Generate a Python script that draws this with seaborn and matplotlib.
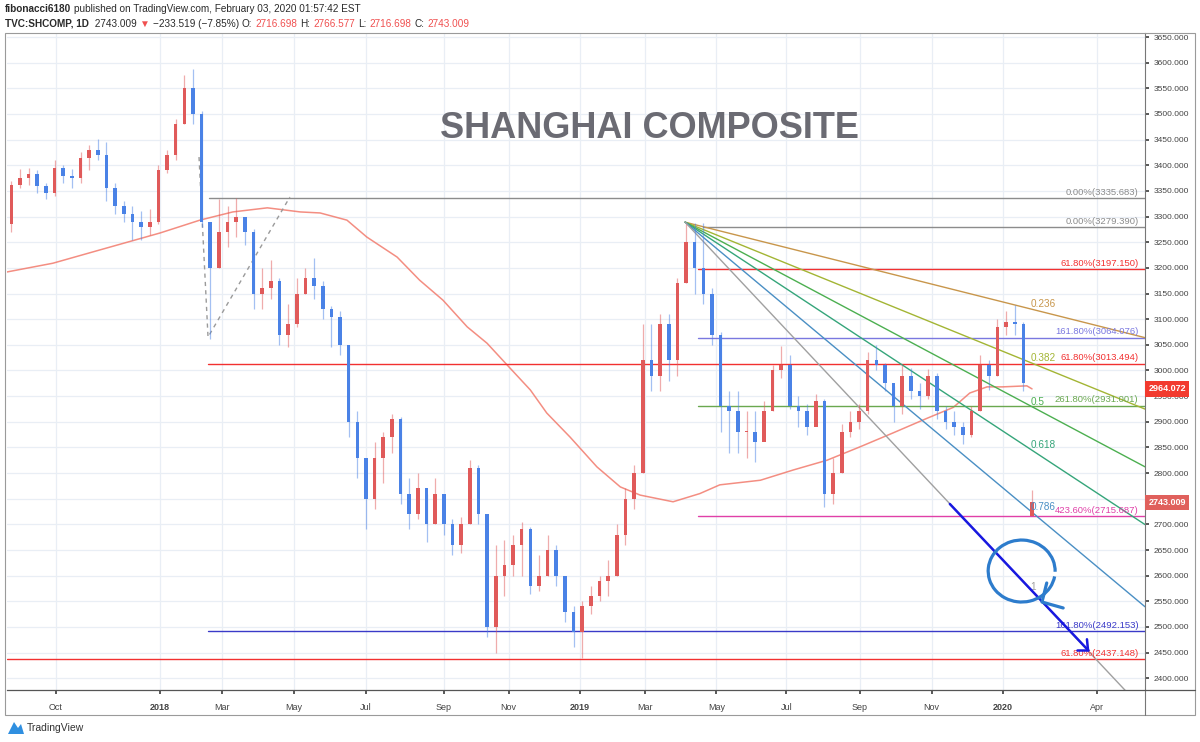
import numpy as np
import pandas as pd
import matplotlib
matplotlib.use("Agg")
import matplotlib.pyplot as plt
from matplotlib.patches import Arc, Rectangle, Polygon
from matplotlib.lines import Line2D
import seaborn as sns

# 주봉 캔들 (중국식 색상: 빨강 = 상승, 파랑 = 하락)
first_open = 3285
close = [3362, 3375, 3382, 3360, 3345, 3395, 3380, 3375, 3415, 3430,
         3420, 3355, 3320, 3305, 3290, 3280, 3290, 3390, 3420, 3480,
         3550, 3500, 3290, 3200, 3270, 3290, 3300, 3270, 3150, 3160,
         3175, 3070, 3090, 3150, 3180, 3165, 3120, 3105, 3050, 2900,
         2830, 2750, 2830, 2870, 2905, 2760, 2720, 2770, 2700, 2760,
         2700, 2660, 2700, 2810, 2720, 2500, 2600, 2620, 2660, 2690,
         2580, 2600, 2650, 2600, 2530, 2490, 2540, 2560, 2590, 2600,
         2680, 2750, 2800, 3020, 2990, 3090, 3020, 3170, 3250, 3200,
         3150, 3070, 2930, 2920, 2880, 2880, 2860, 2920, 3000, 3010,
         2930, 2920, 2890, 2940, 2760, 2800, 2880, 2900, 2920, 3020,
         3010, 2975, 2930, 2990, 2960, 2950, 2990, 2920, 2900, 2890,
         2875, 2920, 3010, 2990, 3085, 3095, 3090, 2976, 2743.009]
high = [3370, 3392, 3395, 3390, 3365, 3410, 3400, 3392, 3425, 3440,
        3452, 3445, 3365, 3330, 3320, 3310, 3315, 3400, 3430, 3490,
        3575, 3587, 3505, 3290, 3335, 3320, 3336, 3300, 3275, 3200,
        3215, 3180, 3130, 3180, 3200, 3220, 3175, 3125, 3115, 3050,
        2920, 2830, 2860, 2880, 2915, 2910, 2790, 2800, 2760, 2790,
        2760, 2710, 2715, 2825, 2815, 2720, 2660, 2670, 2680, 2705,
        2695, 2640, 2680, 2660, 2600, 2540, 2550, 2580, 2600, 2630,
        2700, 2770, 2815, 3090, 3090, 3110, 3110, 3180, 3285, 3288,
        3288, 3160, 3075, 2960, 2960, 2920, 2920, 2940, 3010, 3048,
        3030, 2950, 2935, 2955, 2945, 2830, 2895, 2920, 2935, 3035,
        3050, 3015, 2970, 3010, 3005, 2975, 3002, 2995, 2930, 2920,
        2900, 2930, 3030, 3020, 3100, 3115, 3127, 3095, 2766.577]
low = [3270, 3355, 3362, 3345, 3335, 3340, 3365, 3355, 3365, 3390,
       3410, 3330, 3305, 3290, 3255, 3255, 3265, 3285, 3385, 3410,
       3480, 3480, 3280, 3062, 3200, 3240, 3260, 3245, 3120, 3120,
       3140, 3050, 3045, 3085, 3150, 3140, 3100, 3045, 3030, 2870,
       2790, 2690, 2730, 2780, 2840, 2740, 2690, 2710, 2665, 2700,
       2680, 2640, 2645, 2700, 2700, 2480, 2449, 2560, 2600, 2600,
       2565, 2570, 2600, 2580, 2510, 2460, 2440, 2525, 2550, 2560,
       2600, 2660, 2730, 2800, 2960, 2960, 2980, 2990, 3170, 3150,
       3130, 3050, 2880, 2840, 2840, 2830, 2822, 2870, 2920, 2985,
       2925, 2890, 2875, 2895, 2733, 2740, 2800, 2870, 2885, 2915,
       3000, 2960, 2900, 2915, 2945, 2925, 2945, 2905, 2885, 2875,
       2857, 2870, 2920, 2962, 2990, 3070, 3070, 2960, 2716.698]
gap_open = {118: 2716.698}

# 이동평균선
ma_week = [0, 5.3, 10.75, 17.7, 22.3, 26.1, 30.1, 33.9, 36.2, 39.3, 41.6, 45.1, 47.7,
           50.4, 53.2, 55.5, 57.8, 60.5, 62.4, 65.1, 68.2, 70.9, 73.2, 77.0, 80.1,
           82.4, 87.1, 90.9, 94.8, 98.6, 102.4, 106.4, 109.4, 111.3, 113.3, 115.1,
           117.9, 118.5]
ma_value = [3192, 3209, 3235, 3268, 3293, 3309, 3317, 3309, 3307, 3293, 3260, 3221, 3176,
            3137, 3085, 3053, 3011, 2962, 2917, 2870, 2812, 2773, 2757, 2744, 2760,
            2777, 2786, 2806, 2825, 2851, 2878, 2907, 2928, 2956, 2968, 2968,
            2970, 2964.072]

# 피보나치 수평선
fib_price = [3335.683, 3279.390, 3197.150, 3064.076, 3013.494, 2931.001, 2715.687, 2492.153, 2437.148]
fib_pct = ["0.00%", "0.00%", "61.80%", "161.80%", "61.80%", "261.80%", "423.60%", "161.80%", "61.80%"]
fib_start = [23.35, 80.5, 79.9, 79.9, 23.2, 79.9, 79.9, 23.2, 0]
fib_color = ["#8c8c8c", "#8c8c8c", "#f23030", "#7a78e0", "#f23030", "#6aa84f", "#e040a8", "#3a3ac8", "#f23030"]

# 피보나치 팬
fan_origin = (78.4, 3289)
fan_base_slope = -17.94
fan_levels = [0.236, 0.382, 0.5, 0.618, 0.786, 1]
fan_names = ["0.236", "0.382", "0.5", "0.618", "0.786", "1"]
fan_color = ["#c8964b", "#a3b534", "#4caf50", "#35a57a", "#4a8fc4", "#a0a0a0"]

tick_pos = [5.67, 17.69, 24.86, 33.18, 41.5, 50.5, 58.0, 66.2, 73.8, 82.0, 90.1, 98.6, 106.9, 115.1, 126.0]
tick_labels = ["Oct", "2018", "Mar", "May", "Jul", "Sep", "Nov", "2019",
               "Mar", "May", "Jul", "Sep", "Nov", "2020", "Apr"]

sns.set_theme(style="white")
plt.rcParams['font.family'] = ['Liberation Sans', 'DejaVu Sans']
plt.rcParams['axes.unicode_minus'] = False

W, H = 1200, 742
fig = plt.figure(figsize=(12, 7.42), dpi=100)
ax = fig.add_axes([7 / W, 1 - 690 / H, (1145 - 7) / W, (690 - 33) / H])

# 데이터프레임
df = pd.DataFrame({"close": close, "high": high, "low": low})
df["week"] = np.arange(len(df))
df["open"] = [first_open] + close[:-1]
for k, v in gap_open.items():
    df.loc[k, "open"] = v
df["x"] = df["week"] + 0.5
RED, BLUE = "#e05a5a", "#4a82e6"
cols = np.where(df["close"] >= df["open"], RED, BLUE)

ax.vlines(df["x"], df["low"], df["high"], colors=cols, lw=0.9, alpha=0.5, zorder=3)
body = (df["close"] - df["open"]).abs().clip(lower=2)
bottom = df[["open", "close"]].min(axis=1)
ax.bar(df["x"], body, bottom=bottom, width=0.42, color=cols, lw=0, zorder=4)

# 이동평균선
sns.lineplot(x=ma_week, y=ma_value, ax=ax, color="#f27a6c", lw=1.1, alpha=0.85, zorder=2)

xmax = 131.56
# 수평선
for p, pct, s, c in zip(fib_price, fib_pct, fib_start, fib_color):
    ax.plot([s, xmax], [p, p], color=c, lw=1.0, zorder=2)
    ax.annotate(f"{pct}({p:.3f})", (130.8, p), xytext=(0, 1), textcoords="offset points",
                ha="right", va="bottom", fontsize=6.8, color=c, zorder=6)

# 팬 라인
for lv, name, c in zip(fan_levels, fan_names, fan_color):
    xs = np.array([fan_origin[0], xmax])
    ys = fan_origin[1] + lv * fan_base_slope * (xs - fan_origin[0])
    ax.plot(xs, ys, color=c, lw=1.0, zorder=2)
    ly = fan_origin[1] + lv * fan_base_slope * (118.6 - fan_origin[0])
    ax.annotate(name, (118.3, ly), xytext=(0, 4), textcoords="offset points",
                ha="left", va="center", fontsize=7.2, color=c, zorder=6)

# 점선 (2018년 2월)
ax.plot([22.2, 23.24, 32.7], [3416, 3065, 3338], color="#9a9a9a", lw=1.0, ls=(0, (3, 3)), zorder=2)

# 파란 화살표 + 손그림 동그라미
ax.plot([109.0, 124.97], [2739.7, 2455], color="#1818e0", lw=1.8, zorder=7)
ax.plot([123.7, 124.97], [2455, 2455], color="#1818e0", lw=1.8, zorder=7)
ax.plot([124.85, 124.97], [2476, 2455], color="#1818e0", lw=1.8, zorder=7)
ax.add_patch(Arc((117.3, 2609), 7.74, 120.8, theta1=-20, theta2=290,
                 color="#2d7ccc", lw=2.3, zorder=7))
ax.plot([120.2, 119.65, 122.1], [2585.7, 2548.6, 2537.0], color="#2d7ccc", lw=2.3, zorder=7,
        solid_capstyle="round")

# 축 설정
ax.set_xlim(0, xmax)
ax.set_ylim(2377.1, 3657.8)
ax.yaxis.tick_right()
yt = np.arange(2400, 3651, 50)
ax.set_yticks(yt)
# 2750 눈금 글자는 현재가 박스에 가려짐
ax.set_yticklabels(["" if v == 2750 else f"{v:.3f}" for v in yt])
ax.set_xticks(tick_pos)
ax.set_xticklabels(tick_labels)
for lab in ax.get_xticklabels():
    if lab.get_text().isdigit():
        lab.set_fontweight("bold")
ax.tick_params(axis="y", labelsize=6, colors="#444", length=3, pad=3, right=True)
ax.tick_params(axis="x", labelsize=6.5, colors="#444", length=3, pad=6, bottom=True)
ax.grid(True, color="#e9eef5", lw=0.9)
ax.set_axisbelow(True)
ax.set_xlabel("")
ax.set_ylabel("")
for side in ["left", "top"]:
    ax.spines[side].set_visible(False)
ax.spines["right"].set_color("#777")
ax.spines["bottom"].set_color("#555")
ax.spines["right"].set_linewidth(0.8)
ax.spines["bottom"].set_linewidth(0.9)

# 오른쪽 가격 박스
ytr = ax.get_yaxis_transform()
ax.text(1.003, 2964.072, "2964.072", transform=ytr, ha="left", va="center", fontsize=6.5,
        color="white", fontweight="bold", zorder=10, clip_on=False,
        bbox=dict(boxstyle="square,pad=0.35", fc="#f23a2e", ec="none"))
ax.text(1.003, 2743.009, "2743.009", transform=ytr, ha="left", va="center", fontsize=6.5,
        color="white", fontweight="bold", zorder=10, clip_on=False,
        bbox=dict(boxstyle="square,pad=0.35", fc="#e0605c", ec="none"))

# 제목
fig.text(649 / W, 1 - 128 / H, "SHANGHAI COMPOSITE", ha="center", va="center",
         fontsize=26, fontweight="bold", color="#6b6b73")

# 외곽 프레임
fig.add_artist(Rectangle((5 / W, 1 - 715 / H), (1195 - 5) / W, (715 - 33) / H,
                         transform=fig.transFigure, fill=False, ec="#9a9a9a", lw=0.8))
fig.add_artist(Line2D([1145 / W, 1145 / W], [1 - 715 / H, 1 - 690 / H],
                      transform=fig.transFigure, color="#777", lw=0.8))
fig.add_artist(Line2D([1145 / W, 1195 / W], [1 - 690 / H, 1 - 690 / H],
                      transform=fig.transFigure, color="#555", lw=0.9))

# 헤더 텍스트
renderer = fig.canvas.get_renderer()


def write_row(pieces, x0, y, fs):
    x = x0
    for s, c, wgt in pieces:
        t = fig.text(x, y, s, color=c, fontsize=fs, fontweight=wgt, ha="left", va="center")
        bb = t.get_window_extent(renderer=renderer)
        x += bb.width / fig.bbox.width + 3 / W


DARK = "#2a2a2a"
TRED = "#f05050"
write_row([("fibonacci6180", DARK, "bold"),
           ("published on TradingView.com, February 03, 2020 01:57:42 EST", DARK, "normal")],
          5 / W, 1 - 9 / H, 7.2)
write_row([("TVC:SHCOMP, 1D", DARK, "bold"), (" 2743.009", DARK, "normal"), ("▼", TRED, "normal"),
           ("\u2212233.519 (\u22127.85%)", DARK, "normal"), ("O:", DARK, "normal"),
           ("2716.698", TRED, "normal"), ("H:", DARK, "normal"), ("2766.577", TRED, "normal"),
           ("L:", DARK, "normal"), ("2716.698", TRED, "normal"), ("C:", DARK, "normal"),
           ("2743.009", TRED, "normal")],
          5 / W, 1 - 24 / H, 7.2)

# 하단 TradingView 로고
fig.add_artist(Polygon([[8 / W, 1 - 734 / H], [14 / W, 1 - 722 / H], [18 / W, 1 - 728 / H],
                        [21 / W, 1 - 724 / H], [24 / W, 1 - 734 / H]],
                       closed=True, transform=fig.transFigure, fc="#2f8fe0", ec="none"))
fig.text(27 / W, 1 - 728 / H, "TradingView", fontsize=7.5, color="#333", ha="left", va="center")

fig.savefig("out.png", dpi=100)
